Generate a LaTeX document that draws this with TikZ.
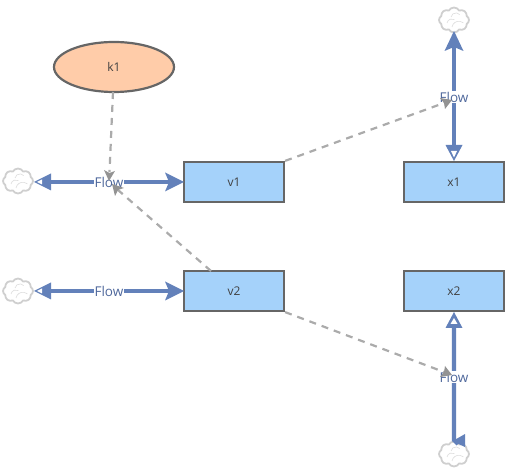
\documentclass[tikz,border=0pt]{standalone}
\usepackage{fontspec}
\setmainfont{Open Sans}
\usetikzlibrary{arrows.meta,shapes.geometric,shapes.symbols}
\definecolor{flowblue}{HTML}{6381BA}
\definecolor{flowtext}{HTML}{4F689C}
\definecolor{boxfill}{HTML}{A5D2FA}
\definecolor{ellfill}{HTML}{FFCCA9}
\definecolor{edgegray}{HTML}{666666}
\definecolor{dashgray}{HTML}{ABABAB}
\definecolor{cloudgray}{HTML}{CFCFCF}
\tikzset{
  x=1pt,y=-1pt,
  stockbox/.style={draw=edgegray,line width=2.2pt,fill=boxfill,minimum width=100pt,minimum height=40pt,inner sep=0pt,font=\fontsize{12}{14}\selectfont,text=black!75},
  auxell/.style={ellipse,draw=edgegray,line width=2.2pt,fill=ellfill,minimum width=120pt,minimum height=50pt,inner sep=0pt,font=\fontsize{12}{14}\selectfont,text=black!75},
  flowlabel/.style={fill=white,inner xsep=0.5pt,inner ysep=1pt,font=\fontsize{13.5}{15}\selectfont,text=flowtext},
  cloudnode/.style={cloud,cloud puffs=8,cloud puff arc=120,aspect=1.2,draw=cloudgray,line width=1.8pt,fill=white,minimum width=30pt,minimum height=25pt,inner sep=0pt},
  flowline/.style={draw=flowblue,line width=4.2pt},
  infl/.style={draw=dashgray,line width=2.2pt,dash pattern=on 7pt off 6pt},
  inflhead/.style={fill=gray!85,draw=none},
  puff/.style={draw=cloudgray!70,line width=0.6pt}
}
\newcommand{\cloudmarks}[1]{%
  \draw[puff] ([shift={(-7,3)}]#1.center) arc[start angle=170,end angle=60,radius=5pt];
  \draw[puff] ([shift={(-2,7)}]#1.center) arc[start angle=170,end angle=50,radius=7pt];
  \draw[puff] ([shift={(-3,-3)}]#1.center) arc[start angle=170,end angle=40,radius=5pt];
}
\begin{document}
\begin{tikzpicture}
\useasboundingbox (0,0) rectangle (528,473);
\node[auxell] (k1) at (114,67) {k1};
\node[stockbox] (v1) at (234,182) {v1};
\node[stockbox] (v2) at (234,291) {v2};
\node[stockbox] (x1) at (454,182) {x1};
\node[stockbox] (x2) at (454,291) {x2};
\node[cloudnode] (c1) at (18,181) {};
\node[cloudnode] (c2) at (18,291) {};
\node[cloudnode] (c3) at (454,20) {};
\node[cloudnode] (c4) at (454,454) {};
\foreach \c in {c1,c2,c3,c4}{\cloudmarks{\c}}
\coordinate (t1) at (45,182);
\coordinate (t2) at (45,291);
\coordinate (t3) at (454,45);
\coordinate (b1) at (454,150);
\coordinate (b2) at (454,322);
\coordinate (h1) at (172,182);
\coordinate (h2) at (172,291);
\coordinate (e4) at (454,440);
\coordinate (e5) at (458,444);
% flows
\draw[flowline] (t1) -- (h1);
\draw[flowline] (t2) -- (h2);
\draw[flowline] (t3) -- (b1);
\draw[flowline] (b2) -- (e4) -- (e5);
\foreach \b in {182,291}{
  \fill[flowblue,shift={(184,\b)}] (0,0) -- (-19,-9.5) -- (-15,0) -- (-19,9.5) -- cycle;
  \fill[flowblue,shift={(34,\b)}] (0,0) -- (17,-8.5) -- (17,8.5) -- cycle;
  \fill[white,shift={(34,\b)}] (3,0) -- (8,-2.5) -- (8,2.5) -- cycle;
}
% filled top head
\fill[flowblue] (454,31) -- (463.5,51) -- (454,47) -- (444.5,51) -- cycle;
% heads with a small hole
\fill[flowblue] (454,161) -- (445.5,145) -- (462.5,145) -- cycle;
\fill[white] (454,157.5) -- (451,151) -- (457,151) -- cycle;
\fill[flowblue] (454,312) -- (445.5,328) -- (462.5,328) -- cycle;
\fill[white] (454,318) -- (450.5,324) -- (457.5,324) -- cycle;
\fill[flowblue] (465,447) -- (452,441) -- (458,438) -- (465,434) -- cycle;
\node[flowlabel] (f1) at (109,182) {Flow};
\node[flowlabel] (f2) at (109,291.5) {Flow};
\node[flowlabel] (f3) at (454,97) {Flow};
\node[flowlabel] (f4) at (454,377) {Flow};
% influences
\coordinate (kstart) at (113,92);
\coordinate (vstart) at (211,271);
\coordinate (ke) at (109.5,172);
\coordinate (ve) at (118,190);
\coordinate (ae) at (444,103);
\coordinate (be) at (444,372);
\draw[infl] (kstart) -- (ke);
\draw[infl] (vstart) -- (ve);
\draw[infl] (v1.north east) -- (ae);
\draw[infl] (v2.south east) -- (be);
\fill[inflhead] (109,181) -- (104,170) -- (109.5,173) -- (115,171) -- cycle;
\fill[inflhead] (112,184) -- (124,188) -- (118,190) -- (115,196) -- cycle;
\fill[inflhead] (452,100) -- (445,109) -- (444,103) -- (440,98) -- cycle;
\fill[inflhead] (452,375) -- (440,377) -- (444,372) -- (445,366) -- cycle;
\end{tikzpicture}
\end{document}
